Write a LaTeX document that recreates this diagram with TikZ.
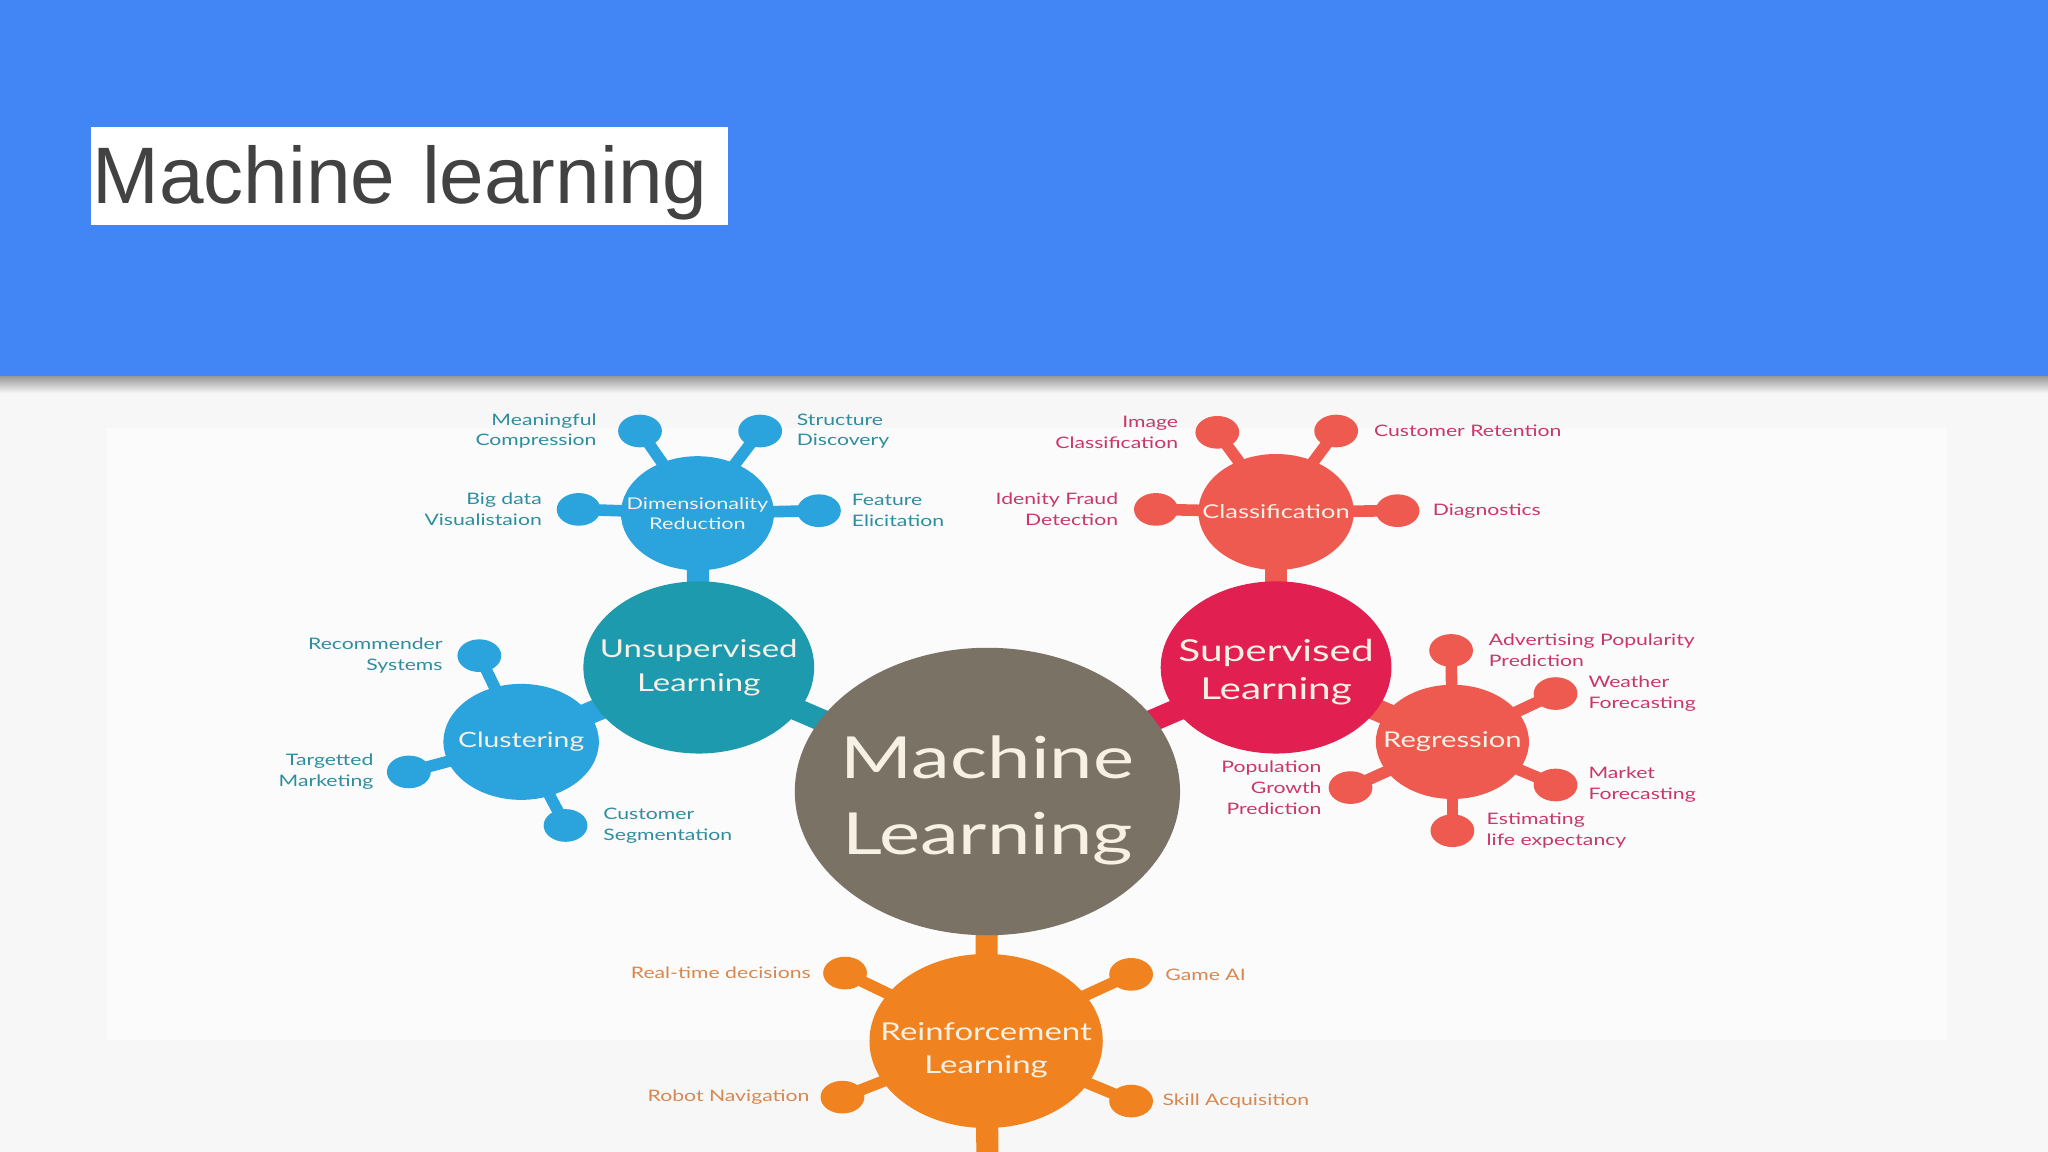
\documentclass[tikz,border=0pt]{standalone}
\usepackage{fontspec}
\setmainfont{Lato}
\newfontfamily\titlefont{Liberation Sans}
\usetikzlibrary{positioning, backgrounds}
\definecolor{headerblue}{HTML}{4285F4}
\definecolor{pagegray}{HTML}{F7F7F7}
\definecolor{titlegray}{HTML}{424242}
\definecolor{mlgray}{HTML}{7A7264}
\definecolor{unsupteal}{HTML}{1E9AAE}
\definecolor{skyblue}{HTML}{2BA3DC}
\definecolor{supcrimson}{HTML}{E11F51}
\definecolor{coral}{HTML}{EE5A4F}
\definecolor{reinforange}{HTML}{F0821F}
\definecolor{tealtext}{HTML}{2E8D9E}
\definecolor{rosetext}{HTML}{C9376A}
\definecolor{ambertext}{HTML}{D8874F}
\definecolor{creamtext}{HTML}{F6F1E4}

\begin{document}
\begin{tikzpicture}[x=0.013061cm, y=-0.013061cm, node distance=3.7pt,
    wide/.style={xscale=1.34},
    bubble/.style={circle, wide, inner sep=0pt, align=center, text=creamtext, fill=#1},
    leaf/.style={circle, wide, minimum size=9.3pt, inner sep=0pt, fill=#1},
    lbl/.style={wide, inner sep=0pt, text=#1, font=\fontsize{4.5}{5.9}\selectfont},
    stem/.style={draw=#1, line width=6.3pt},
    twig/.style={draw=#1, line width=3.3pt}]

  \useasboundingbox (0,0) rectangle (1568,882);
  \begin{scope}[on background layer]
    \fill[pagegray] (0,0) rectangle (1568,882);
    \fill[white!45!pagegray] (82,328) rectangle (1491,796);
    \shade[top color=black!40, bottom color=pagegray] (0,288) rectangle (1568,301);
    \fill[headerblue] (0,0) rectangle (1568,288);
  \end{scope}

  \node[fill=white, anchor=north west, inner xsep=0.5pt, inner ysep=0pt, text width=180.3pt,
        align=left, text height=21.7pt, text depth=6.2pt, text=titlegray,
        font=\titlefont\fontsize{22.8}{22.8}\selectfont] (title) at (69,97) {Machine learning};

  \node[bubble=mlgray, minimum size=81.8pt, font=\fontsize{16.5}{21.5}\selectfont] (ml) at (756,606) {\rule{0pt}{17.2pt}Machine\\Learning};
  \node[bubble=unsupteal, minimum size=49pt, font=\fontsize{7}{9.7}\selectfont] (unsup) at (535,511) {Unsupervised\\Learning};
  \node[bubble=supcrimson, minimum size=49pt, font=\fontsize{8.6}{11}\selectfont] (sup) at (977,511) {\rule{0pt}{9pt}Supervised\\Learning};
  \node[bubble=reinforange, minimum size=48.3pt, font=\fontsize{7}{9.3}\selectfont] (reinf) at (755,797) {\rule{0pt}{10.5pt}Reinforcement\\Learning};
  \node[bubble=skyblue, minimum size=32.5pt, font=\fontsize{4.6}{5.6}\selectfont] (dimred) at (534,393) {Dimensionality\\Reduction};
  \node[bubble=skyblue, minimum size=33pt, font=\fontsize{6}{7}\selectfont] (clust) at (399,568) {Clustering};
  \node[bubble=coral, minimum size=33pt, font=\fontsize{5.4}{6.4}\selectfont] (classif) at (977,392) {Classification};
  \node[bubble=coral, minimum size=32.5pt, font=\fontsize{6.2}{7.2}\selectfont] (regr) at (1112,568) {Regression};
  \coordinate (tail) at (756,882);

  \node[leaf=skyblue] (mc) at (490,330) {};
  \node[leaf=skyblue] (sd) at (582,330) {};
  \node[leaf=skyblue] (bdv) at (443,390) {};
  \node[leaf=skyblue] (fe) at (627,391) {};
  \node[leaf=skyblue] (rs) at (367,502) {};
  \node[leaf=skyblue] (tm) at (313,591) {};
  \node[leaf=skyblue] (cs) at (433,632) {};

  \node[leaf=coral] (ic) at (932,331) {};
  \node[leaf=coral] (cr) at (1023,330) {};
  \node[leaf=coral] (ifd) at (885,390) {};
  \node[leaf=coral] (dg) at (1070,391) {};
  \node[leaf=coral] (app) at (1111,498) {};
  \node[leaf=coral] (wf) at (1191,531) {};
  \node[leaf=coral] (pgp) at (1034,603) {};
  \node[leaf=coral] (mf) at (1191,601) {};
  \node[leaf=coral] (ele) at (1112,636) {};

  \node[leaf=reinforange] (rtd) at (647,745) {};
  \node[leaf=reinforange] (gai) at (866,746) {};
  \node[leaf=reinforange] (rn) at (645,840) {};
  \node[leaf=reinforange] (sa) at (866,843) {};

  \node[lbl=tealtext, align=right, left=5.6pt of mc] (mcl) {Meaningful\\Compression};
  \node[lbl=tealtext, align=left, right=of sd] (sdl) {Structure\\Discovery};
  \node[lbl=tealtext, align=right, left=of bdv] (bdvl) {Big data\\Visualistaion};
  \node[lbl=tealtext, align=left, right=2.6pt of fe] (fel) {Feature\\Elicitation};
  \node[lbl=tealtext, align=right, left=of rs] (rsl) {Recommender\\Systems};
  \node[lbl=tealtext, align=right, left=3.3pt of tm] (tml) {Targetted\\Marketing};
  \node[lbl=tealtext, align=left, right=4pt of cs] (csl) {Customer\\Segmentation};

  \node[lbl=rosetext, align=right, left=4.4pt of ic] (icl) {Image\\Classification};
  \node[lbl=rosetext, align=left, right=4pt of cr] (crl) {Customer Retention};
  \node[lbl=rosetext, align=right, left=4pt of ifd] (ifdl) {Idenity Fraud\\Detection};
  \node[lbl=rosetext, align=left, right=3.3pt of dg] (dgl) {Diagnostics};
  \node[lbl=rosetext, align=left, right=4pt of app] (appl) {Advertising Popularity\\Prediction};
  \node[lbl=rosetext, align=left, right=2.6pt of wf] (wfl) {Weather\\Forecasting};
  \node[lbl=rosetext, align=right, left=1.5pt of pgp] (pgpl) {Population\\Growth\\Prediction};
  \node[lbl=rosetext, align=left, right=2.6pt of mf] (mfl) {Market\\Forecasting};
  \node[lbl=rosetext, align=left, right=3pt of ele] (elel) {Estimating\\life expectancy};

  \node[lbl=ambertext, left=3pt of rtd] (rtdl) {Real-time decisions};
  \node[lbl=ambertext, right=3pt of gai] (gail) {Game AI};
  \node[lbl=ambertext, left=2.6pt of rn] (rnl) {Robot Navigation};
  \node[lbl=ambertext, right=2.2pt of sa] (sal) {Skill Acquisition};

  \begin{scope}[on background layer]
    \draw[stem=unsupteal] (ml.center) -- (unsup.center);
    \draw[stem=supcrimson] (ml.center) -- (sup.center);
    \draw[stem=reinforange] (ml.center) -- (reinf.center);
    \draw[stem=skyblue] (unsup.center) -- (dimred.center);
    \draw[stem=skyblue] (unsup.center) -- (clust.center);
    \draw[stem=coral] (sup.center) -- (classif.center);
    \draw[stem=coral] (sup.center) -- (regr.center);
    \draw[stem=reinforange] (reinf.center) -- (tail);

    \draw[twig=skyblue] (dimred.center) -- (mc.center);
    \draw[twig=skyblue] (dimred.center) -- (sd.center);
    \draw[twig=skyblue] (dimred.center) -- (bdv.center);
    \draw[twig=skyblue] (dimred.center) -- (fe.center);
    \draw[twig=skyblue] (clust.center) -- (rs.center);
    \draw[twig=skyblue] (clust.center) -- (tm.center);
    \draw[twig=skyblue] (clust.center) -- (cs.center);

    \draw[twig=coral] (classif.center) -- (ic.center);
    \draw[twig=coral] (classif.center) -- (cr.center);
    \draw[twig=coral] (classif.center) -- (ifd.center);
    \draw[twig=coral] (classif.center) -- (dg.center);
    \draw[twig=coral] (regr.center) -- (app.center);
    \draw[twig=coral] (regr.center) -- (wf.center);
    \draw[twig=coral] (regr.center) -- (pgp.center);
    \draw[twig=coral] (regr.center) -- (mf.center);
    \draw[twig=coral] (regr.center) -- (ele.center);

    \draw[twig=reinforange] (reinf.center) -- (rtd.center);
    \draw[twig=reinforange] (reinf.center) -- (gai.center);
    \draw[twig=reinforange] (reinf.center) -- (rn.center);
    \draw[twig=reinforange] (reinf.center) -- (sa.center);
  \end{scope}
\end{tikzpicture}
\end{document}
